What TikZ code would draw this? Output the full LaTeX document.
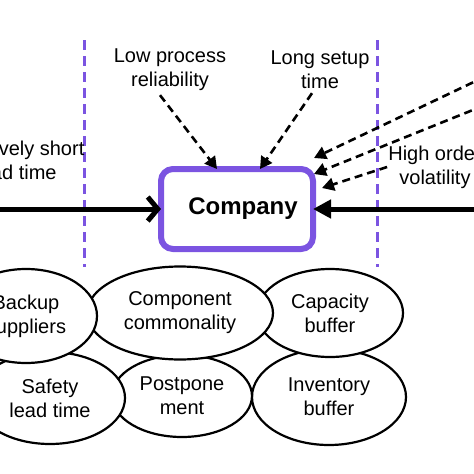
\documentclass[tikz,border=0pt]{standalone}
\usepackage{fontspec}
\setmainfont{Liberation Sans}
\usetikzlibrary{arrows.meta,shapes.geometric}
\definecolor{bordpurple}{RGB}{123,84,225}
\tikzset{
  lbl/.style={align=center,font=\fontsize{20}{24}\selectfont,inner sep=0pt},
  oval/.style={ellipse,draw,fill=white,line width=2.2pt,inner sep=0pt,align=center,font=\fontsize{20}{24}\selectfont},
  bound/.style={bordpurple,line width=3pt,dash pattern=on 10pt off 6pt},
  cause/.style={line width=2.6pt,dash pattern=on 8pt off 5pt,-{Triangle[length=12pt,width=13pt]}},
  flow/.style={line width=5pt}
}
\begin{document}
\begin{tikzpicture}[x=1pt,y=-1pt]
\clip (0,0) rectangle (474,474);
\draw[bound] (84,40)--(84,267);
\draw[bound] (377,40)--(377,267);

\node[draw=bordpurple,line width=6pt,rounded corners=12pt,minimum width=152pt,minimum height=80pt,outer sep=0pt,font=\fontsize{24}{28}\selectfont\bfseries] (company) at (237,209) {\hspace*{12pt}Company};

\node[lbl] (shortlt) at (16,160) {Relatively short\\lead time};
\node[lbl] (lowrel) at (170,70) {Low process\\reliability};
\node[lbl] (setup) at (320,70) {Long setup\\time};
\node[lbl] (volat) at (435,167) {High order\\volatility};

\coordinate (supin) at (-10,209);
\coordinate (custin) at (490,209);
\coordinate (far1) at (520,60);
\coordinate (far2) at (520,91);

\draw[flow,-{Straight Barb[length=10pt,width=24pt]}] (supin) -- (company.west);
\draw[flow,-{Triangle[length=18pt,width=18pt]}] (custin) -- (company.east);

\draw[cause] ([xshift=-10pt,yshift=-4pt]lowrel.south) -- ([xshift=-20pt]company.north);
\draw[cause] ([xshift=-8pt,yshift=-4pt]setup.south) -- ([xshift=23pt]company.north);
\draw[cause] (far1) -- ([xshift=1pt,yshift=11pt]company.north east);
\draw[cause] (far2) -- ([xshift=1pt,yshift=-5pt]company.north east);
\draw[cause] ([xshift=-1pt]volat.west) -- ([xshift=9pt,yshift=-19pt]company.north east);

\node[oval,minimum width=154pt,minimum height=96pt] (invbuf) at (329,397) {Inventory\\buffer};
\node[oval,minimum width=140pt,minimum height=82pt] (postpone) at (182,396) {Postpone\\ment};
\node[oval,minimum width=150pt,minimum height=92pt] (safety) at (50,398) {Safety\\lead time};
\node[oval,minimum width=146pt,minimum height=88pt] (capbuf) at (330,313) {Capacity\\buffer};
\node[oval,minimum width=186pt,minimum height=93pt] (common) at (180,313) {Component\\commonality};
\node[oval,minimum width=142pt,minimum height=94pt] (backup) at (26,316) {Backup\\suppliers};
\end{tikzpicture}
\end{document}
